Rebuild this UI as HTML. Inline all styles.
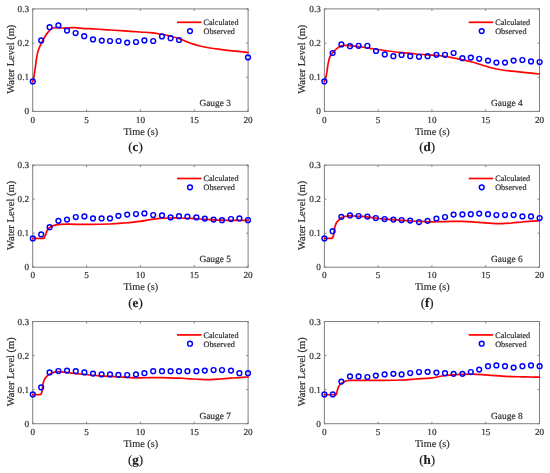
<!DOCTYPE html>
<html><head><meta charset="utf-8"><title>Water level comparison</title>
<style>
html,body{margin:0;padding:0;background:#fff;}
body{width:550px;height:473px;overflow:hidden;}
svg{display:block;}
.tx{filter:grayscale(1);}
text{font-family:"Liberation Serif",serif;fill:#303030;text-rendering:geometricPrecision;stroke:#303030;stroke-width:0.20px;}
.tk{font-size:9.20px;}
.lab{font-size:10.30px;}
.ylab{font-size:10.5px;}
.lg{font-size:8.20px;}
.gg{font-size:9.40px;}
.cap{font-size:13.00px;fill:#1a1a1a;}
</style></head>
<body>
<svg width="550" height="473" viewBox="0 0 550 473">
<rect width="550" height="473" fill="#fff"/>
<rect x="32.70" y="8.90" width="215.40" height="102.50" fill="none" stroke="#808080" stroke-width="1.00"/>
<path d="M32.70 111.40V109.40M32.70 8.90V10.90M86.55 111.40V109.40M86.55 8.90V10.90M140.40 111.40V109.40M140.40 8.90V10.90M194.25 111.40V109.40M194.25 8.90V10.90M248.10 111.40V109.40M248.10 8.90V10.90M32.70 111.40H34.70M248.10 111.40H246.10M32.70 77.23H34.70M248.10 77.23H246.10M32.70 43.07H34.70M248.10 43.07H246.10M32.70 8.90H34.70M248.10 8.90H246.10" stroke="#808080" stroke-width="1.00" fill="none"/>
<path d="M177.00 22.30H201.50" stroke="#ff0000" stroke-width="1.70"/>
<circle cx="190.00" cy="31.10" r="2.40" fill="none" stroke="#0000ff" stroke-width="1.45"/>
<path d="M32.80 81.60 C33.03 80.50 33.73 77.72 34.20 75.00 C34.67 72.28 35.22 68.05 35.60 65.30 C35.98 62.55 36.12 60.78 36.50 58.50 C36.88 56.22 37.37 53.55 37.90 51.60 C38.43 49.65 39.07 48.28 39.70 46.80 C40.33 45.32 40.90 44.30 41.70 42.70 C42.50 41.10 43.47 38.92 44.50 37.20 C45.53 35.48 46.75 33.78 47.90 32.40 C49.05 31.02 50.25 29.68 51.40 28.90 C52.55 28.12 53.67 27.92 54.80 27.70 C55.93 27.48 56.93 27.55 58.20 27.60 C59.47 27.65 61.10 27.93 62.40 28.00 C63.70 28.07 64.07 28.07 66.00 28.00 C67.93 27.93 71.33 27.53 74.00 27.60 C76.67 27.67 78.33 28.17 82.00 28.40 C85.67 28.63 91.33 28.73 96.00 29.00 C100.67 29.27 105.33 29.70 110.00 30.00 C114.67 30.30 119.00 30.47 124.00 30.80 C129.00 31.13 135.67 31.70 140.00 32.00 C144.33 32.30 146.67 32.27 150.00 32.60 C153.33 32.93 156.67 33.43 160.00 34.00 C163.33 34.57 166.67 35.17 170.00 36.00 C173.33 36.83 176.67 37.83 180.00 39.00 C183.33 40.17 186.67 41.83 190.00 43.00 C193.33 44.17 196.67 45.17 200.00 46.00 C203.33 46.83 206.67 47.43 210.00 48.00 C213.33 48.57 216.67 48.97 220.00 49.40 C223.33 49.83 226.67 50.23 230.00 50.60 C233.33 50.97 236.98 51.27 240.00 51.60 C243.02 51.93 246.75 52.43 248.10 52.60" fill="none" stroke="#ff0000" stroke-width="1.70" stroke-linejoin="round" stroke-linecap="round"/>
<g fill="none" stroke="#0000ff" stroke-width="1.45"><circle cx="32.80" cy="81.40" r="2.40"/><circle cx="41.20" cy="40.40" r="2.40"/><circle cx="49.60" cy="27.20" r="2.40"/><circle cx="58.40" cy="25.40" r="2.40"/><circle cx="67.00" cy="30.60" r="2.40"/><circle cx="75.60" cy="33.00" r="2.40"/><circle cx="84.20" cy="36.20" r="2.40"/><circle cx="93.00" cy="39.40" r="2.40"/><circle cx="101.80" cy="40.60" r="2.40"/><circle cx="110.00" cy="41.00" r="2.40"/><circle cx="118.60" cy="41.00" r="2.40"/><circle cx="127.20" cy="42.60" r="2.40"/><circle cx="136.00" cy="42.00" r="2.40"/><circle cx="144.40" cy="40.40" r="2.40"/><circle cx="153.20" cy="41.00" r="2.40"/><circle cx="162.00" cy="36.40" r="2.40"/><circle cx="170.60" cy="38.20" r="2.40"/><circle cx="179.00" cy="40.00" r="2.40"/><circle cx="248.00" cy="57.40" r="2.40"/></g>
<rect x="324.40" y="8.90" width="215.10" height="102.50" fill="none" stroke="#808080" stroke-width="1.00"/>
<path d="M324.40 111.40V109.40M324.40 8.90V10.90M378.17 111.40V109.40M378.17 8.90V10.90M431.95 111.40V109.40M431.95 8.90V10.90M485.73 111.40V109.40M485.73 8.90V10.90M539.50 111.40V109.40M539.50 8.90V10.90M324.40 111.40H326.40M539.50 111.40H537.50M324.40 77.23H326.40M539.50 77.23H537.50M324.40 43.07H326.40M539.50 43.07H537.50M324.40 8.90H326.40M539.50 8.90H537.50" stroke="#808080" stroke-width="1.00" fill="none"/>
<path d="M468.70 22.30H493.20" stroke="#ff0000" stroke-width="1.70"/>
<circle cx="481.70" cy="31.10" r="2.40" fill="none" stroke="#0000ff" stroke-width="1.45"/>
<path d="M324.40 81.40 C324.70 80.50 325.75 77.82 326.20 76.00 C326.65 74.18 326.82 72.37 327.10 70.50 C327.38 68.63 327.63 66.38 327.90 64.80 C328.17 63.22 328.42 62.20 328.70 61.00 C328.98 59.80 329.22 58.63 329.60 57.60 C329.98 56.57 330.52 55.57 331.00 54.80 C331.48 54.03 331.80 53.80 332.50 53.00 C333.20 52.20 334.27 50.90 335.20 50.00 C336.13 49.10 337.07 48.28 338.10 47.60 C339.13 46.92 340.28 46.27 341.40 45.90 C342.52 45.53 343.37 45.45 344.80 45.40 C346.23 45.35 347.13 45.33 350.00 45.60 C352.87 45.87 358.00 46.43 362.00 47.00 C366.00 47.57 369.67 48.33 374.00 49.00 C378.33 49.67 383.33 50.40 388.00 51.00 C392.67 51.60 397.33 52.10 402.00 52.60 C406.67 53.10 411.00 53.57 416.00 54.00 C421.00 54.43 427.67 54.87 432.00 55.20 C436.33 55.53 438.67 55.60 442.00 56.00 C445.33 56.40 448.67 57.00 452.00 57.60 C455.33 58.20 458.67 58.87 462.00 59.60 C465.33 60.33 468.67 61.10 472.00 62.00 C475.33 62.90 478.67 64.00 482.00 65.00 C485.33 66.00 488.67 67.17 492.00 68.00 C495.33 68.83 498.67 69.47 502.00 70.00 C505.33 70.53 508.67 70.83 512.00 71.20 C515.33 71.57 518.67 71.87 522.00 72.20 C525.33 72.53 529.08 72.90 532.00 73.20 C534.92 73.50 538.25 73.87 539.50 74.00" fill="none" stroke="#ff0000" stroke-width="1.70" stroke-linejoin="round" stroke-linecap="round"/>
<g fill="none" stroke="#0000ff" stroke-width="1.45"><circle cx="324.40" cy="81.40" r="2.40"/><circle cx="332.60" cy="53.00" r="2.40"/><circle cx="341.40" cy="44.40" r="2.40"/><circle cx="350.00" cy="46.20" r="2.40"/><circle cx="358.60" cy="45.80" r="2.40"/><circle cx="367.40" cy="45.80" r="2.40"/><circle cx="376.00" cy="51.00" r="2.40"/><circle cx="384.80" cy="54.40" r="2.40"/><circle cx="393.40" cy="56.20" r="2.40"/><circle cx="401.60" cy="55.00" r="2.40"/><circle cx="410.20" cy="56.20" r="2.40"/><circle cx="419.00" cy="56.80" r="2.40"/><circle cx="427.60" cy="56.20" r="2.40"/><circle cx="436.40" cy="54.80" r="2.40"/><circle cx="445.00" cy="54.80" r="2.40"/><circle cx="453.60" cy="53.00" r="2.40"/><circle cx="462.40" cy="58.20" r="2.40"/><circle cx="470.80" cy="57.60" r="2.40"/><circle cx="479.20" cy="58.80" r="2.40"/><circle cx="488.00" cy="60.60" r="2.40"/><circle cx="496.40" cy="62.60" r="2.40"/><circle cx="505.00" cy="62.60" r="2.40"/><circle cx="513.60" cy="60.60" r="2.40"/><circle cx="522.40" cy="60.00" r="2.40"/><circle cx="531.00" cy="61.40" r="2.40"/><circle cx="539.60" cy="62.00" r="2.40"/></g>
<rect x="32.70" y="165.10" width="215.40" height="102.10" fill="none" stroke="#808080" stroke-width="1.00"/>
<path d="M32.70 267.20V265.20M32.70 165.10V167.10M86.55 267.20V265.20M86.55 165.10V167.10M140.40 267.20V265.20M140.40 165.10V167.10M194.25 267.20V265.20M194.25 165.10V167.10M248.10 267.20V265.20M248.10 165.10V167.10M32.70 267.20H34.70M248.10 267.20H246.10M32.70 233.17H34.70M248.10 233.17H246.10M32.70 199.13H34.70M248.10 199.13H246.10M32.70 165.10H34.70M248.10 165.10H246.10" stroke="#808080" stroke-width="1.00" fill="none"/>
<path d="M177.00 178.50H201.50" stroke="#ff0000" stroke-width="1.70"/>
<circle cx="190.00" cy="187.30" r="2.40" fill="none" stroke="#0000ff" stroke-width="1.45"/>
<path d="M32.80 238.40 C34.53 238.40 41.25 238.62 43.20 238.40 C45.15 238.18 44.07 237.80 44.50 237.10 C44.93 236.40 45.38 235.25 45.80 234.20 C46.22 233.15 46.52 231.78 47.00 230.80 C47.48 229.82 48.07 228.97 48.70 228.30 C49.33 227.63 50.02 227.25 50.80 226.80 C51.58 226.35 52.40 225.97 53.40 225.60 C54.40 225.23 55.68 224.82 56.80 224.60 C57.92 224.38 57.90 224.37 60.10 224.30 C62.30 224.23 65.02 224.18 70.00 224.20 C74.98 224.22 83.33 224.43 90.00 224.40 C96.67 224.37 104.33 224.23 110.00 224.00 C115.67 223.77 119.00 223.43 124.00 223.00 C129.00 222.57 135.67 221.97 140.00 221.40 C144.33 220.83 146.67 220.10 150.00 219.60 C153.33 219.10 156.67 218.67 160.00 218.40 C163.33 218.13 166.67 218.07 170.00 218.00 C173.33 217.93 176.67 217.93 180.00 218.00 C183.33 218.07 186.67 218.23 190.00 218.40 C193.33 218.57 196.67 218.80 200.00 219.00 C203.33 219.20 206.67 219.40 210.00 219.60 C213.33 219.80 216.67 220.07 220.00 220.20 C223.33 220.33 226.67 220.37 230.00 220.40 C233.33 220.43 236.98 220.40 240.00 220.40 C243.02 220.40 246.75 220.40 248.10 220.40" fill="none" stroke="#ff0000" stroke-width="1.70" stroke-linejoin="round" stroke-linecap="round"/>
<g fill="none" stroke="#0000ff" stroke-width="1.45"><circle cx="32.80" cy="238.40" r="2.40"/><circle cx="41.20" cy="234.40" r="2.40"/><circle cx="49.60" cy="227.20" r="2.40"/><circle cx="58.40" cy="220.80" r="2.40"/><circle cx="67.00" cy="219.60" r="2.40"/><circle cx="75.80" cy="217.00" r="2.40"/><circle cx="84.40" cy="216.40" r="2.40"/><circle cx="93.00" cy="218.40" r="2.40"/><circle cx="101.60" cy="218.40" r="2.40"/><circle cx="110.00" cy="218.40" r="2.40"/><circle cx="118.40" cy="215.80" r="2.40"/><circle cx="127.20" cy="214.60" r="2.40"/><circle cx="136.00" cy="214.00" r="2.40"/><circle cx="144.40" cy="213.40" r="2.40"/><circle cx="153.20" cy="215.00" r="2.40"/><circle cx="162.00" cy="215.40" r="2.40"/><circle cx="170.60" cy="217.40" r="2.40"/><circle cx="179.00" cy="216.20" r="2.40"/><circle cx="187.40" cy="216.60" r="2.40"/><circle cx="196.40" cy="217.40" r="2.40"/><circle cx="204.80" cy="218.60" r="2.40"/><circle cx="213.60" cy="219.60" r="2.40"/><circle cx="222.00" cy="220.20" r="2.40"/><circle cx="231.00" cy="219.00" r="2.40"/><circle cx="239.40" cy="218.40" r="2.40"/><circle cx="248.00" cy="220.20" r="2.40"/></g>
<rect x="324.40" y="165.10" width="215.10" height="102.10" fill="none" stroke="#808080" stroke-width="1.00"/>
<path d="M324.40 267.20V265.20M324.40 165.10V167.10M378.17 267.20V265.20M378.17 165.10V167.10M431.95 267.20V265.20M431.95 165.10V167.10M485.73 267.20V265.20M485.73 165.10V167.10M539.50 267.20V265.20M539.50 165.10V167.10M324.40 267.20H326.40M539.50 267.20H537.50M324.40 233.17H326.40M539.50 233.17H537.50M324.40 199.13H326.40M539.50 199.13H537.50M324.40 165.10H326.40M539.50 165.10H537.50" stroke="#808080" stroke-width="1.00" fill="none"/>
<path d="M468.70 178.50H493.20" stroke="#ff0000" stroke-width="1.70"/>
<circle cx="481.70" cy="187.30" r="2.40" fill="none" stroke="#0000ff" stroke-width="1.45"/>
<path d="M324.40 238.40 C325.57 238.40 330.02 238.53 331.40 238.40 C332.78 238.27 332.35 238.08 332.70 237.60 C333.05 237.12 333.25 236.70 333.50 235.50 C333.75 234.30 333.93 231.95 334.20 230.40 C334.47 228.85 334.72 227.47 335.10 226.20 C335.48 224.93 335.92 223.80 336.50 222.80 C337.08 221.80 337.82 221.05 338.60 220.20 C339.38 219.35 340.07 218.33 341.20 217.70 C342.33 217.07 344.00 216.72 345.40 216.40 C346.80 216.08 348.20 215.87 349.60 215.80 C351.00 215.73 352.38 215.90 353.80 216.00 C355.22 216.10 356.73 216.33 358.10 216.40 C359.47 216.47 359.68 216.20 362.00 216.40 C364.32 216.60 368.67 217.20 372.00 217.60 C375.33 218.00 378.67 218.47 382.00 218.80 C385.33 219.13 388.67 219.33 392.00 219.60 C395.33 219.87 398.67 220.17 402.00 220.40 C405.33 220.63 408.67 220.83 412.00 221.00 C415.33 221.17 418.67 221.27 422.00 221.40 C425.33 221.53 428.67 221.77 432.00 221.80 C435.33 221.83 438.67 221.67 442.00 221.60 C445.33 221.53 448.67 221.43 452.00 221.40 C455.33 221.37 458.67 221.33 462.00 221.40 C465.33 221.47 468.67 221.60 472.00 221.80 C475.33 222.00 478.67 222.33 482.00 222.60 C485.33 222.87 488.67 223.23 492.00 223.40 C495.33 223.57 498.67 223.67 502.00 223.60 C505.33 223.53 508.67 223.27 512.00 223.00 C515.33 222.73 518.67 222.30 522.00 222.00 C525.33 221.70 529.08 221.43 532.00 221.20 C534.92 220.97 538.25 220.70 539.50 220.60" fill="none" stroke="#ff0000" stroke-width="1.70" stroke-linejoin="round" stroke-linecap="round"/>
<g fill="none" stroke="#0000ff" stroke-width="1.45"><circle cx="324.40" cy="238.40" r="2.40"/><circle cx="332.60" cy="231.20" r="2.40"/><circle cx="341.40" cy="216.80" r="2.40"/><circle cx="350.00" cy="215.40" r="2.40"/><circle cx="358.60" cy="216.00" r="2.40"/><circle cx="367.40" cy="216.60" r="2.40"/><circle cx="375.80" cy="218.00" r="2.40"/><circle cx="384.60" cy="219.00" r="2.40"/><circle cx="393.40" cy="219.60" r="2.40"/><circle cx="401.60" cy="220.00" r="2.40"/><circle cx="410.20" cy="220.60" r="2.40"/><circle cx="419.00" cy="222.00" r="2.40"/><circle cx="427.60" cy="220.80" r="2.40"/><circle cx="436.40" cy="218.60" r="2.40"/><circle cx="445.00" cy="217.00" r="2.40"/><circle cx="453.60" cy="214.60" r="2.40"/><circle cx="462.40" cy="214.40" r="2.40"/><circle cx="470.80" cy="214.20" r="2.40"/><circle cx="479.20" cy="213.60" r="2.40"/><circle cx="488.00" cy="214.20" r="2.40"/><circle cx="496.40" cy="215.00" r="2.40"/><circle cx="505.00" cy="215.00" r="2.40"/><circle cx="513.60" cy="215.00" r="2.40"/><circle cx="522.40" cy="216.40" r="2.40"/><circle cx="531.00" cy="216.40" r="2.40"/><circle cx="539.60" cy="218.00" r="2.40"/></g>
<rect x="32.70" y="321.50" width="215.40" height="102.20" fill="none" stroke="#808080" stroke-width="1.00"/>
<path d="M32.70 423.70V421.70M32.70 321.50V323.50M86.55 423.70V421.70M86.55 321.50V323.50M140.40 423.70V421.70M140.40 321.50V323.50M194.25 423.70V421.70M194.25 321.50V323.50M248.10 423.70V421.70M248.10 321.50V323.50M32.70 423.70H34.70M248.10 423.70H246.10M32.70 389.63H34.70M248.10 389.63H246.10M32.70 355.57H34.70M248.10 355.57H246.10M32.70 321.50H34.70M248.10 321.50H246.10" stroke="#808080" stroke-width="1.00" fill="none"/>
<path d="M177.00 334.90H201.50" stroke="#ff0000" stroke-width="1.70"/>
<circle cx="190.00" cy="343.70" r="2.40" fill="none" stroke="#0000ff" stroke-width="1.45"/>
<path d="M32.80 394.70 C33.97 394.70 38.42 394.85 39.80 394.70 C41.18 394.55 40.73 394.33 41.10 393.80 C41.47 393.27 41.75 392.73 42.00 391.50 C42.25 390.27 42.37 387.95 42.60 386.40 C42.83 384.85 43.02 383.47 43.40 382.20 C43.78 380.93 44.30 379.80 44.90 378.80 C45.50 377.80 46.15 376.98 47.00 376.20 C47.85 375.42 48.93 374.73 50.00 374.10 C51.07 373.47 52.13 372.82 53.40 372.40 C54.67 371.98 56.20 371.70 57.60 371.60 C59.00 371.50 60.38 371.68 61.80 371.80 C63.22 371.92 64.73 372.12 66.10 372.30 C67.47 372.48 67.68 372.62 70.00 372.90 C72.32 373.18 76.67 373.65 80.00 374.00 C83.33 374.35 86.67 374.70 90.00 375.00 C93.33 375.30 96.67 375.57 100.00 375.80 C103.33 376.03 106.67 376.20 110.00 376.40 C113.33 376.60 116.67 376.80 120.00 377.00 C123.33 377.20 126.67 377.45 130.00 377.60 C133.33 377.75 136.67 377.90 140.00 377.90 C143.33 377.90 146.67 377.65 150.00 377.60 C153.33 377.55 156.67 377.57 160.00 377.60 C163.33 377.63 166.67 377.70 170.00 377.80 C173.33 377.90 176.67 378.03 180.00 378.20 C183.33 378.37 186.67 378.60 190.00 378.80 C193.33 379.00 196.67 379.27 200.00 379.40 C203.33 379.53 206.67 379.67 210.00 379.60 C213.33 379.53 216.67 379.23 220.00 379.00 C223.33 378.77 226.67 378.43 230.00 378.20 C233.33 377.97 236.98 377.80 240.00 377.60 C243.02 377.40 246.75 377.10 248.10 377.00" fill="none" stroke="#ff0000" stroke-width="1.70" stroke-linejoin="round" stroke-linecap="round"/>
<g fill="none" stroke="#0000ff" stroke-width="1.45"><circle cx="32.80" cy="394.40" r="2.40"/><circle cx="41.20" cy="387.40" r="2.40"/><circle cx="49.60" cy="372.40" r="2.40"/><circle cx="58.40" cy="371.00" r="2.40"/><circle cx="67.00" cy="370.60" r="2.40"/><circle cx="75.80" cy="371.20" r="2.40"/><circle cx="84.40" cy="372.40" r="2.40"/><circle cx="93.00" cy="373.60" r="2.40"/><circle cx="101.60" cy="374.40" r="2.40"/><circle cx="110.00" cy="374.40" r="2.40"/><circle cx="118.40" cy="374.80" r="2.40"/><circle cx="127.20" cy="375.00" r="2.40"/><circle cx="136.00" cy="374.40" r="2.40"/><circle cx="144.40" cy="373.20" r="2.40"/><circle cx="153.20" cy="371.20" r="2.40"/><circle cx="162.00" cy="371.20" r="2.40"/><circle cx="170.60" cy="371.20" r="2.40"/><circle cx="179.00" cy="371.20" r="2.40"/><circle cx="187.40" cy="371.20" r="2.40"/><circle cx="196.40" cy="371.20" r="2.40"/><circle cx="204.80" cy="370.60" r="2.40"/><circle cx="213.60" cy="370.00" r="2.40"/><circle cx="222.00" cy="370.00" r="2.40"/><circle cx="231.00" cy="370.60" r="2.40"/><circle cx="239.40" cy="373.20" r="2.40"/><circle cx="248.00" cy="373.20" r="2.40"/></g>
<rect x="324.40" y="321.50" width="215.10" height="102.20" fill="none" stroke="#808080" stroke-width="1.00"/>
<path d="M324.40 423.70V421.70M324.40 321.50V323.50M378.17 423.70V421.70M378.17 321.50V323.50M431.95 423.70V421.70M431.95 321.50V323.50M485.73 423.70V421.70M485.73 321.50V323.50M539.50 423.70V421.70M539.50 321.50V323.50M324.40 423.70H326.40M539.50 423.70H537.50M324.40 389.63H326.40M539.50 389.63H537.50M324.40 355.57H326.40M539.50 355.57H537.50M324.40 321.50H326.40M539.50 321.50H537.50" stroke="#808080" stroke-width="1.00" fill="none"/>
<path d="M468.70 334.90H493.20" stroke="#ff0000" stroke-width="1.70"/>
<circle cx="481.70" cy="343.70" r="2.40" fill="none" stroke="#0000ff" stroke-width="1.45"/>
<path d="M324.40 394.70 C326.20 394.70 333.18 394.88 335.20 394.70 C337.22 394.52 336.15 394.28 336.50 393.60 C336.85 392.92 336.98 391.67 337.30 390.60 C337.62 389.53 337.97 388.18 338.40 387.20 C338.83 386.22 339.30 385.40 339.90 384.70 C340.50 384.00 341.08 383.57 342.00 383.00 C342.92 382.43 344.27 381.72 345.40 381.30 C346.53 380.88 347.40 380.67 348.80 380.50 C350.20 380.33 351.60 380.32 353.80 380.30 C356.00 380.28 357.30 380.38 362.00 380.40 C366.70 380.42 375.33 380.47 382.00 380.40 C388.67 380.33 396.33 380.23 402.00 380.00 C407.67 379.77 411.00 379.37 416.00 379.00 C421.00 378.63 427.67 378.30 432.00 377.80 C436.33 377.30 438.67 376.50 442.00 376.00 C445.33 375.50 448.67 375.07 452.00 374.80 C455.33 374.53 458.67 374.50 462.00 374.40 C465.33 374.30 468.67 374.17 472.00 374.20 C475.33 374.23 478.67 374.40 482.00 374.60 C485.33 374.80 488.67 375.13 492.00 375.40 C495.33 375.67 498.67 376.00 502.00 376.20 C505.33 376.40 508.67 376.50 512.00 376.60 C515.33 376.70 518.67 376.73 522.00 376.80 C525.33 376.87 529.08 376.93 532.00 377.00 C534.92 377.07 538.25 377.17 539.50 377.20" fill="none" stroke="#ff0000" stroke-width="1.70" stroke-linejoin="round" stroke-linecap="round"/>
<g fill="none" stroke="#0000ff" stroke-width="1.45"><circle cx="324.40" cy="394.40" r="2.40"/><circle cx="332.80" cy="394.40" r="2.40"/><circle cx="341.40" cy="381.60" r="2.40"/><circle cx="350.00" cy="376.40" r="2.40"/><circle cx="358.60" cy="376.40" r="2.40"/><circle cx="367.40" cy="377.00" r="2.40"/><circle cx="375.80" cy="375.60" r="2.40"/><circle cx="384.60" cy="374.40" r="2.40"/><circle cx="393.40" cy="373.80" r="2.40"/><circle cx="401.60" cy="374.40" r="2.40"/><circle cx="410.20" cy="373.00" r="2.40"/><circle cx="419.00" cy="372.00" r="2.40"/><circle cx="427.60" cy="371.80" r="2.40"/><circle cx="436.40" cy="372.60" r="2.40"/><circle cx="445.00" cy="373.20" r="2.40"/><circle cx="453.60" cy="373.80" r="2.40"/><circle cx="462.40" cy="373.80" r="2.40"/><circle cx="470.80" cy="372.00" r="2.40"/><circle cx="479.20" cy="369.60" r="2.40"/><circle cx="488.00" cy="366.20" r="2.40"/><circle cx="496.40" cy="365.40" r="2.40"/><circle cx="505.00" cy="366.20" r="2.40"/><circle cx="513.60" cy="367.60" r="2.40"/><circle cx="522.40" cy="366.20" r="2.40"/><circle cx="531.00" cy="365.40" r="2.40"/><circle cx="539.60" cy="366.20" r="2.40"/></g>
<g class="tx">
<text x="32.70" y="122.60" text-anchor="middle" class="tk">0</text>
<text x="86.55" y="122.60" text-anchor="middle" class="tk">5</text>
<text x="140.40" y="122.60" text-anchor="middle" class="tk">10</text>
<text x="194.25" y="122.60" text-anchor="middle" class="tk">15</text>
<text x="248.10" y="122.60" text-anchor="middle" class="tk">20</text>
<text x="29.10" y="114.40" text-anchor="end" class="tk">0</text>
<text x="29.10" y="80.23" text-anchor="end" class="tk">0.1</text>
<text x="29.10" y="46.07" text-anchor="end" class="tk">0.2</text>
<text x="29.10" y="11.90" text-anchor="end" class="tk">0.3</text>
<text x="140.80" y="134.60" text-anchor="middle" class="lab">Time (s)</text>
<text transform="translate(13.70 59.20) rotate(-90)" text-anchor="middle" class="ylab">Water Level (m)</text>
<text x="135.50" y="151.10" text-anchor="middle" class="cap">(<tspan font-weight="bold">c</tspan>)</text>
<text x="199.40" y="106.00" class="gg">Gauge 3</text>
<text x="203.50" y="25.10" class="lg">Calculated</text>
<text x="203.50" y="34.00" class="lg">Observed</text>
<text x="324.40" y="122.60" text-anchor="middle" class="tk">0</text>
<text x="378.17" y="122.60" text-anchor="middle" class="tk">5</text>
<text x="431.95" y="122.60" text-anchor="middle" class="tk">10</text>
<text x="485.73" y="122.60" text-anchor="middle" class="tk">15</text>
<text x="539.50" y="122.60" text-anchor="middle" class="tk">20</text>
<text x="320.80" y="114.40" text-anchor="end" class="tk">0</text>
<text x="320.80" y="80.23" text-anchor="end" class="tk">0.1</text>
<text x="320.80" y="46.07" text-anchor="end" class="tk">0.2</text>
<text x="320.80" y="11.90" text-anchor="end" class="tk">0.3</text>
<text x="432.35" y="134.60" text-anchor="middle" class="lab">Time (s)</text>
<text transform="translate(305.40 59.20) rotate(-90)" text-anchor="middle" class="ylab">Water Level (m)</text>
<text x="427.20" y="151.10" text-anchor="middle" class="cap">(<tspan font-weight="bold">d</tspan>)</text>
<text x="491.10" y="106.00" class="gg">Gauge 4</text>
<text x="495.20" y="25.10" class="lg">Calculated</text>
<text x="495.20" y="34.00" class="lg">Observed</text>
<text x="32.70" y="278.40" text-anchor="middle" class="tk">0</text>
<text x="86.55" y="278.40" text-anchor="middle" class="tk">5</text>
<text x="140.40" y="278.40" text-anchor="middle" class="tk">10</text>
<text x="194.25" y="278.40" text-anchor="middle" class="tk">15</text>
<text x="248.10" y="278.40" text-anchor="middle" class="tk">20</text>
<text x="29.10" y="270.20" text-anchor="end" class="tk">0</text>
<text x="29.10" y="236.17" text-anchor="end" class="tk">0.1</text>
<text x="29.10" y="202.13" text-anchor="end" class="tk">0.2</text>
<text x="29.10" y="168.10" text-anchor="end" class="tk">0.3</text>
<text x="140.80" y="290.40" text-anchor="middle" class="lab">Time (s)</text>
<text transform="translate(13.70 215.40) rotate(-90)" text-anchor="middle" class="ylab">Water Level (m)</text>
<text x="135.50" y="307.30" text-anchor="middle" class="cap">(<tspan font-weight="bold">e</tspan>)</text>
<text x="199.40" y="262.20" class="gg">Gauge 5</text>
<text x="203.50" y="181.30" class="lg">Calculated</text>
<text x="203.50" y="190.20" class="lg">Observed</text>
<text x="324.40" y="278.40" text-anchor="middle" class="tk">0</text>
<text x="378.17" y="278.40" text-anchor="middle" class="tk">5</text>
<text x="431.95" y="278.40" text-anchor="middle" class="tk">10</text>
<text x="485.73" y="278.40" text-anchor="middle" class="tk">15</text>
<text x="539.50" y="278.40" text-anchor="middle" class="tk">20</text>
<text x="320.80" y="270.20" text-anchor="end" class="tk">0</text>
<text x="320.80" y="236.17" text-anchor="end" class="tk">0.1</text>
<text x="320.80" y="202.13" text-anchor="end" class="tk">0.2</text>
<text x="320.80" y="168.10" text-anchor="end" class="tk">0.3</text>
<text x="432.35" y="290.40" text-anchor="middle" class="lab">Time (s)</text>
<text transform="translate(305.40 215.40) rotate(-90)" text-anchor="middle" class="ylab">Water Level (m)</text>
<text x="427.20" y="307.30" text-anchor="middle" class="cap">(<tspan font-weight="bold">f</tspan>)</text>
<text x="491.10" y="262.20" class="gg">Gauge 6</text>
<text x="495.20" y="181.30" class="lg">Calculated</text>
<text x="495.20" y="190.20" class="lg">Observed</text>
<text x="32.70" y="434.90" text-anchor="middle" class="tk">0</text>
<text x="86.55" y="434.90" text-anchor="middle" class="tk">5</text>
<text x="140.40" y="434.90" text-anchor="middle" class="tk">10</text>
<text x="194.25" y="434.90" text-anchor="middle" class="tk">15</text>
<text x="248.10" y="434.90" text-anchor="middle" class="tk">20</text>
<text x="29.10" y="426.70" text-anchor="end" class="tk">0</text>
<text x="29.10" y="392.63" text-anchor="end" class="tk">0.1</text>
<text x="29.10" y="358.57" text-anchor="end" class="tk">0.2</text>
<text x="29.10" y="324.50" text-anchor="end" class="tk">0.3</text>
<text x="140.80" y="446.90" text-anchor="middle" class="lab">Time (s)</text>
<text transform="translate(13.70 371.80) rotate(-90)" text-anchor="middle" class="ylab">Water Level (m)</text>
<text x="135.50" y="463.70" text-anchor="middle" class="cap">(<tspan font-weight="bold">g</tspan>)</text>
<text x="199.40" y="418.60" class="gg">Gauge 7</text>
<text x="203.50" y="337.70" class="lg">Calculated</text>
<text x="203.50" y="346.60" class="lg">Observed</text>
<text x="324.40" y="434.90" text-anchor="middle" class="tk">0</text>
<text x="378.17" y="434.90" text-anchor="middle" class="tk">5</text>
<text x="431.95" y="434.90" text-anchor="middle" class="tk">10</text>
<text x="485.73" y="434.90" text-anchor="middle" class="tk">15</text>
<text x="539.50" y="434.90" text-anchor="middle" class="tk">20</text>
<text x="320.80" y="426.70" text-anchor="end" class="tk">0</text>
<text x="320.80" y="392.63" text-anchor="end" class="tk">0.1</text>
<text x="320.80" y="358.57" text-anchor="end" class="tk">0.2</text>
<text x="320.80" y="324.50" text-anchor="end" class="tk">0.3</text>
<text x="432.35" y="446.90" text-anchor="middle" class="lab">Time (s)</text>
<text transform="translate(305.40 371.80) rotate(-90)" text-anchor="middle" class="ylab">Water Level (m)</text>
<text x="427.20" y="463.70" text-anchor="middle" class="cap">(<tspan font-weight="bold">h</tspan>)</text>
<text x="491.10" y="418.60" class="gg">Gauge 8</text>
<text x="495.20" y="337.70" class="lg">Calculated</text>
<text x="495.20" y="346.60" class="lg">Observed</text>
</g>
</svg>
</body></html>
